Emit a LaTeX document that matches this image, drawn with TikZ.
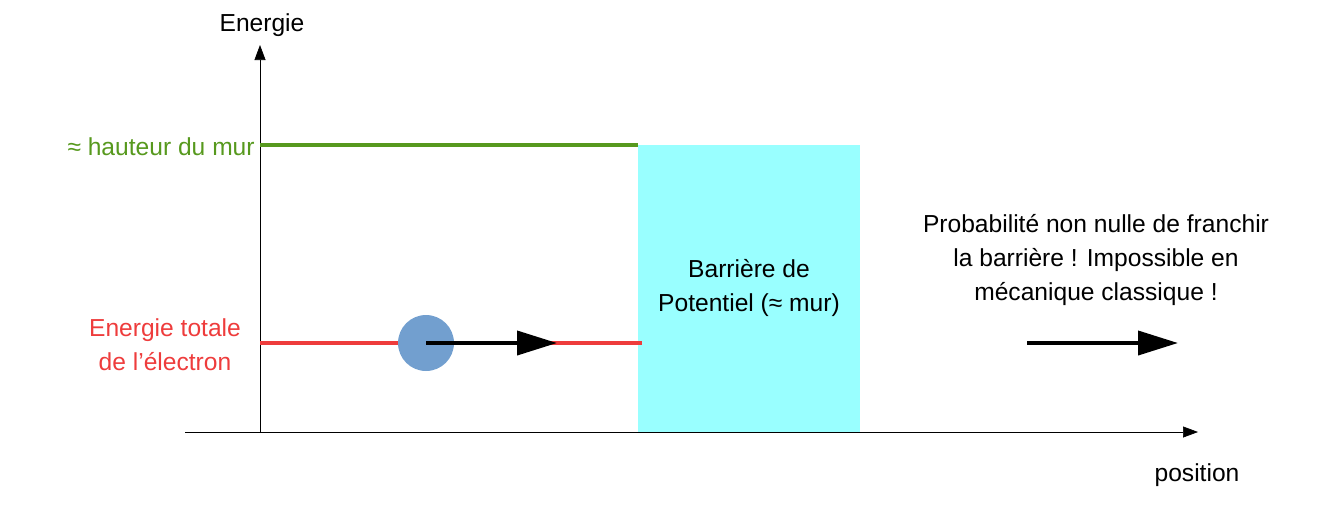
\documentclass[tikz,border=0pt]{standalone}
\usepackage{fontspec}
\setmainfont{Liberation Sans}
\usetikzlibrary{arrows.meta}
\definecolor{grn}{RGB}{87,153,30}
\definecolor{rd}{RGB}{238,60,60}
\definecolor{cy}{RGB}{153,255,255}
\definecolor{bl}{RGB}{114,159,207}
\begin{document}
\begin{tikzpicture}[x=0.02cm,y=-0.02cm,
  lbl/.style={font=\fontsize{14pt}{19.3pt}\selectfont,align=center,inner sep=0pt},
  bigarrow/.style={line width=2.2pt,-{Triangle[length=0.8cm,width=0.48cm]}}]
\useasboundingbox (0,0) rectangle (1331,505);
\fill[cy] (638,145) rectangle (860,432);
\coordinate (yb) at (260,432); \coordinate (yt) at (260,45);
\coordinate (xl) at (185,432); \coordinate (xr) at (1198,432);
\draw[-{Triangle[length=0.3cm,width=0.22cm]}] (yb) -- (yt);
\draw[-{Triangle[length=0.3cm,width=0.22cm]}] (xl) -- (xr);
\node[lbl] (e) at (262,25) {Energie};
\node[lbl] (p) at (1197,475) {position};
\coordinate (g1) at (260,145); \coordinate (g2) at (638,145);
\draw[grn,line width=2.2pt] (g1) -- (g2);
\node[lbl,text=grn,anchor=east] (gl) at (255,147) {≈ hauteur du mur};
\coordinate (r1) at (260,343); \coordinate (r2) at (642,343);
\draw[rd,line width=2.2pt] (r1) -- (r2);
\node[lbl,text=rd] (rl) at (165,345) {Energie totale\\de l’électron};
\node[circle,fill=bl,minimum size=1.12cm,inner sep=0pt] (c) at (426,343) {};
\coordinate (a2) at (557,343);
\draw[bigarrow] (c.center) -- (a2);
\node[lbl] (b) at (749,288) {Barrière de\\Potentiel (≈ mur)};
\node[lbl] (t) at (1096,260) {Probabilité non nulle de franchir\\la barrière ! Impossible en\\mécanique classique !};
\coordinate (b1) at (1027,343); \coordinate (b2) at (1178,343);
\draw[bigarrow] (b1) -- (b2);
\end{tikzpicture}
\end{document}
